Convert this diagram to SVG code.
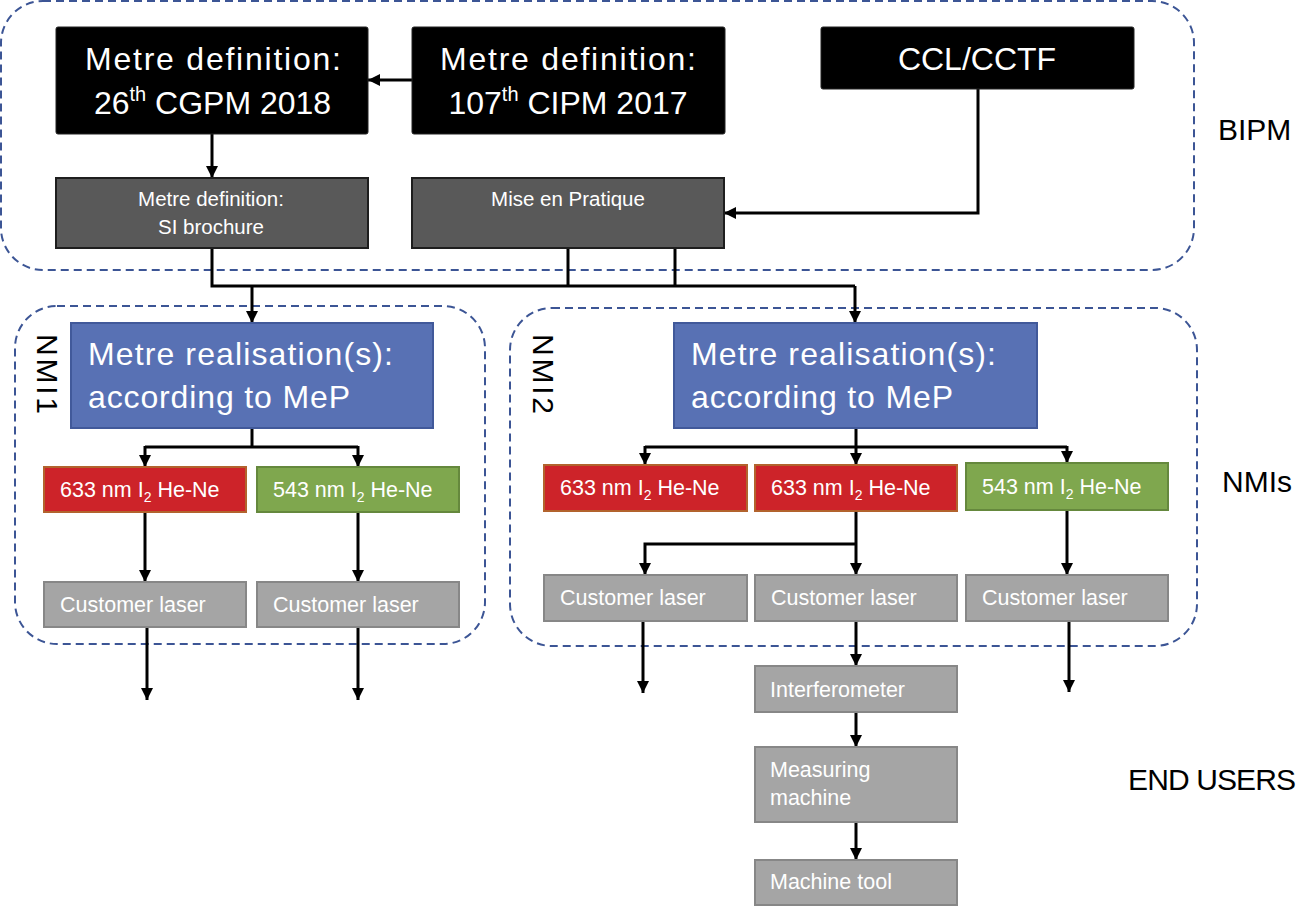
<svg xmlns="http://www.w3.org/2000/svg" width="1300" height="906" viewBox="0 0 1300 906">
<defs>
<marker id="ah" viewBox="0 0 10 10" refX="10" refY="5" markerWidth="12" markerHeight="12" markerUnits="userSpaceOnUse" orient="auto">
<path d="M0,0 L10,5 L0,10 z" fill="#000"/>
</marker>
<style>
text{font-family:"Liberation Sans",Arial,sans-serif}
.cont{fill:none;stroke:#3c5595;stroke-width:2;stroke-dasharray:8 5}
.blk{fill:#000;stroke:#222;stroke-width:1}
.dg{fill:#595959;stroke:#1e1e1e;stroke-width:2}
.blue{fill:#5871b4;stroke:#41599a;stroke-width:2}
.red{fill:#cd2329;stroke:#b2632d;stroke-width:2}
.grn{fill:#7fa74e;stroke:#65883d;stroke-width:2}
.gry{fill:#a5a5a5;stroke:#878787;stroke-width:2}
.wbig{fill:#fff;font-size:32px;text-anchor:middle}
.wsm{fill:#fff;font-size:20.5px;text-anchor:middle}
.wblue{fill:#fff;font-size:32px}
.wl{fill:#fff;font-size:21.5px}
.lab{fill:#000;font-size:30px}
.c{fill:none;stroke:#000;stroke-width:3}
.a{fill:none;stroke:#000;stroke-width:3;marker-end:url(#ah)}
</style>
</defs>
<rect width="1300" height="906" fill="#fff"/>

<g id="containers">
<rect class="cont" x="1" y="1" width="1193" height="269" rx="42" ry="42"/>
<rect class="cont" x="15" y="306" width="470" height="338" rx="42" ry="42"/>
<rect class="cont" x="510" y="308" width="687" height="338" rx="42" ry="42"/>
</g>

<g id="labels">
<text class="lab" x="1218" y="140">BIPM</text>
<text class="lab" x="1222" y="492">NMIs</text>
<text class="lab" x="1128" y="790" textLength="168">END USERS</text>
<text class="lab" transform="translate(37,334) rotate(90)" font-size="34" textLength="80">NMI1</text>
<text class="lab" transform="translate(533,334) rotate(90)" font-size="34" textLength="80">NMI2</text>
</g>

<g id="connectors">
<path class="a" d="M412,80 H368"/>
<path class="a" d="M212,134 V178"/>
<path class="a" d="M978,89 V213 H724"/>
<path class="c" d="M212,248 V286 H855"/>
<path class="c" d="M568,248 V286"/>
<path class="c" d="M675,248 V286"/>
<path class="a" d="M252,286 V323"/>
<path class="a" d="M855,286 V323"/>
<path class="c" d="M252,428 V447"/>
<path class="c" d="M145,447 H358"/>
<path class="a" d="M145,446 V467"/>
<path class="a" d="M358,446 V467"/>
<path class="a" d="M145,512 V582"/>
<path class="a" d="M358,512 V582"/>
<path class="a" d="M147,627 V700"/>
<path class="a" d="M358,627 V700"/>
<path class="c" d="M856,428 V447"/>
<path class="c" d="M645,447 H1067"/>
<path class="a" d="M645,446 V465"/>
<path class="a" d="M856,446 V465"/>
<path class="a" d="M1067,446 V463"/>
<path class="a" d="M856,511 V575"/>
<path class="a" d="M857,544 H645 V575"/>
<path class="a" d="M1067,510 V575"/>
<path class="a" d="M643,621 V693"/>
<path class="a" d="M856,621 V666"/>
<path class="a" d="M1069,621 V692"/>
<path class="a" d="M856,712 V747"/>
<path class="a" d="M856,822 V860"/>
</g>

<g id="n_cgpm">
<rect class="blk" x="56" y="27" width="312" height="107" rx="2"/>
<text class="wbig" x="213" y="70" textLength="256">Metre definition:</text>
<text class="wbig" x="212.5" y="114">26<tspan font-size="20" dy="-13">th</tspan><tspan dy="13"> CGPM 2018</tspan></text>
</g>
<g id="n_cipm">
<rect class="blk" x="412" y="27" width="313" height="107" rx="2"/>
<text class="wbig" x="568" y="70" textLength="256">Metre definition:</text>
<text class="wbig" x="568" y="114">107<tspan font-size="20" dy="-13">th</tspan><tspan dy="13"> CIPM 2017</tspan></text>
</g>
<g id="n_ccl">
<rect class="blk" x="821" y="27" width="313" height="62" rx="2"/>
<text class="wbig" x="977" y="70" font-size="29">CCL/CCTF</text>
</g>
<g id="n_si">
<rect class="dg" x="56" y="178" width="312" height="70"/>
<text class="wsm" x="211" y="206">Metre definition:</text>
<text class="wsm" x="211" y="234">SI brochure</text>
</g>
<g id="n_mep">
<rect class="dg" x="412" y="178" width="312" height="70"/>
<text class="wsm" x="568" y="206">Mise en Pratique</text>
</g>

<g id="nmi1_real">
<rect class="blue" x="71" y="323" width="362" height="105"/>
<text class="wblue" x="88" y="365" textLength="305">Metre realisation(s):</text>
<text class="wblue" x="88" y="408" textLength="262">according to MeP</text>
</g>
<g id="nmi1_633">
<rect class="red" x="44" y="467" width="202" height="45"/>
<text class="wl" x="60" y="497">633 nm I<tspan font-size="14" dy="5">2</tspan><tspan dy="-5"> He-Ne</tspan></text>
</g>
<g id="nmi1_543">
<rect class="grn" x="257" y="467" width="202" height="45"/>
<text class="wl" x="273" y="497">543 nm I<tspan font-size="14" dy="5">2</tspan><tspan dy="-5"> He-Ne</tspan></text>
</g>
<g id="nmi1_cust1">
<rect class="gry" x="44" y="582" width="202" height="45"/>
<text class="wl" x="60" y="612">Customer laser</text>
</g>
<g id="nmi1_cust2">
<rect class="gry" x="257" y="582" width="202" height="45"/>
<text class="wl" x="273" y="612">Customer laser</text>
</g>

<g id="nmi2_real">
<rect class="blue" x="674" y="323" width="363" height="105"/>
<text class="wblue" x="691" y="365" textLength="305">Metre realisation(s):</text>
<text class="wblue" x="691" y="408" textLength="262">according to MeP</text>
</g>
<g id="nmi2_633a">
<rect class="red" x="544" y="465" width="203" height="46"/>
<text class="wl" x="560" y="495">633 nm I<tspan font-size="14" dy="5">2</tspan><tspan dy="-5"> He-Ne</tspan></text>
</g>
<g id="nmi2_633b">
<rect class="red" x="755" y="465" width="202" height="46"/>
<text class="wl" x="771" y="495">633 nm I<tspan font-size="14" dy="5">2</tspan><tspan dy="-5"> He-Ne</tspan></text>
</g>
<g id="nmi2_543">
<rect class="grn" x="966" y="463" width="202" height="47"/>
<text class="wl" x="982" y="494">543 nm I<tspan font-size="14" dy="5">2</tspan><tspan dy="-5"> He-Ne</tspan></text>
</g>
<g id="nmi2_cust1">
<rect class="gry" x="544" y="575" width="203" height="46"/>
<text class="wl" x="560" y="605">Customer laser</text>
</g>
<g id="nmi2_cust2">
<rect class="gry" x="755" y="575" width="202" height="46"/>
<text class="wl" x="771" y="605">Customer laser</text>
</g>
<g id="nmi2_cust3">
<rect class="gry" x="966" y="575" width="202" height="46"/>
<text class="wl" x="982" y="605">Customer laser</text>
</g>

<g id="eu_interf">
<rect class="gry" x="755" y="666" width="202" height="46"/>
<text class="wl" x="770" y="697">Interferometer</text>
</g>
<g id="eu_measure">
<rect class="gry" x="755" y="747" width="202" height="75"/>
<text class="wl" x="770" y="777">Measuring</text>
<text class="wl" x="770" y="805">machine</text>
</g>
<g id="eu_tool">
<rect class="gry" x="755" y="860" width="202" height="45"/>
<text class="wl" x="770" y="889">Machine tool</text>
</g>
</svg>
